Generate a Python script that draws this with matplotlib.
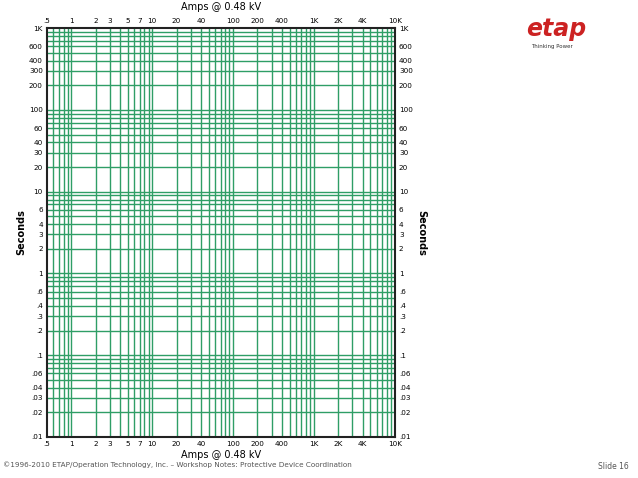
import matplotlib
matplotlib.use("Agg")
import matplotlib.pyplot as plt
import numpy as np

x_ticks = [0.5, 1, 2, 3, 5, 7, 10, 20, 40, 100, 200, 400, 1000, 2000, 4000, 10000]
x_labels = [".5", "1", "2", "3", "5", "7", "10", "20", "40", "100", "200", "400", "1K", "2K", "4K", "10K"]
y_ticks = [0.01, 0.02, 0.03, 0.04, 0.06, 0.1, 0.2, 0.3, 0.4, 0.6, 1, 2, 3, 4, 6, 10, 20, 30, 40, 60, 100, 200, 300, 400, 600, 1000]
y_labels = [".01", ".02", ".03", ".04", ".06", ".1", ".2", ".3", ".4", ".6", "1", "2", "3", "4", "6", "10", "20", "30", "40", "60", "100", "200", "300", "400", "600", "1K"]

fig = plt.figure(figsize=(6.38, 4.78), dpi=100)
ax = fig.add_axes([0.0737, 0.086, 0.545, 0.855])
ax.set_xscale("log"); ax.set_yscale("log")
ax.set_xlim(0.5, 10000); ax.set_ylim(0.01, 1000)
gc = "#2f9e66"
for d in range(-1, 4):
    for m in range(1, 10):
        v = m * 10.0**d
        if 0.5 < v < 10000:
            ax.axvline(v, color=gc, lw=1.0, snap=True)
for d in range(-2, 3):
    for m in range(1, 10):
        v = m * 10.0**d
        if 0.01 < v < 1000:
            ax.axhline(v, color=gc, lw=1.0, snap=True)
ax.minorticks_off()
ax.set_xticks(x_ticks); ax.set_xticklabels(x_labels)
ax.set_yticks(y_ticks); ax.set_yticklabels(y_labels)
ax.tick_params(axis="both", labelsize=5.2, length=0, pad=3,
               top=True, labeltop=True, right=True, labelright=True)
for s in ax.spines.values():
    s.set_linewidth(1.5); s.set_color("#222222")
ax.set_xlabel("Amps @ 0.48 kV", fontsize=7, labelpad=2)
ax.text(0.5, 1.045, "Amps @ 0.48 kV", transform=ax.transAxes, ha="center", fontsize=7)
ax.set_ylabel("Seconds", fontsize=7, fontweight="bold", labelpad=2)
ax.text(1.075, 0.5, "Seconds", transform=ax.transAxes, rotation=270, va="center", ha="center", fontsize=7, fontweight="bold")

fig.text(0.005, 0.022, "©1996-2010 ETAP/Operation Technology, Inc. – Workshop Notes: Protective Device Coordination", fontsize=5.2, color="#555555")
fig.text(0.985, 0.018, "Slide 16", fontsize=5.5, color="#555555", ha="right")
fig.text(0.872, 0.925, "etap", fontsize=17, color="#cc2222", fontweight="bold", style="italic", ha="center")
fig.text(0.865, 0.9, "Thinking Power", fontsize=4, color="#333333", ha="center")
fig.savefig("out.png", dpi=100)
